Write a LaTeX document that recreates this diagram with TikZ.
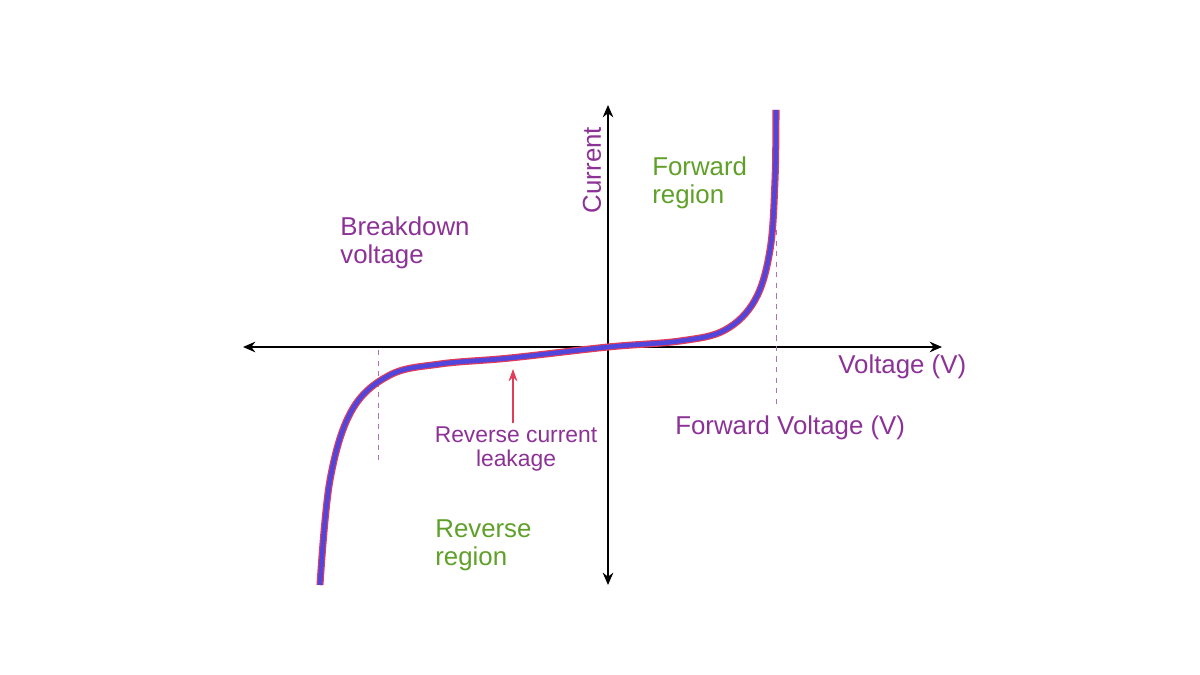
\documentclass[tikz,border=0pt]{standalone}
\usepackage{fontspec}
\setmainfont{Liberation Sans}
\usetikzlibrary{positioning,arrows.meta}
\definecolor{lblpurple}{RGB}{140,50,150}
\definecolor{lblgreen}{RGB}{95,160,40}
\definecolor{curveblue}{RGB}{80,70,220}
\definecolor{curvered}{RGB}{225,60,90}
\tikzset{
  lbl/.style={text=lblpurple,font=\fontsize{14.7}{16}\selectfont,align=left,inner sep=0pt},
  region/.style={text=lblgreen,font=\fontsize{14.7}{16}\selectfont,align=left,inner sep=0pt},
  guide/.style={lblpurple!70,dashed,thin},
}
\begin{document}
\begin{tikzpicture}[x=0.02cm,y=-0.02cm]
\useasboundingbox (0,0) rectangle (1200,675);

% axes
\coordinate (ax-left) at (243,347);
\coordinate (ax-right) at (942,347);
\coordinate (ax-top) at (608,105);
\coordinate (ax-bottom) at (608,585);
\draw [{Stealth[length=7pt,width=6pt]}-{Stealth[length=7pt,width=6pt]},line width=1pt] (ax-left) -- (ax-right);
\draw [{Stealth[length=7pt,width=6pt]}-{Stealth[length=7pt,width=6pt]},line width=1pt] (ax-bottom) -- (ax-top);

% guide lines
\coordinate (bd-top) at (378,350);
\coordinate (bd-bottom) at (378,460);
\coordinate (fw-top) at (776,230);
\coordinate (fw-bottom) at (776,405);
\draw [guide] (bd-top) -- (bd-bottom);
\draw [guide] (fw-top) -- (fw-bottom);

% diode curve
\def\diodecurve{plot [smooth,tension=0.6] coordinates {(320,585) (330,480) (352,410) (390,375) (440,364) (510,358) (608,347) (680,341) (725,330) (755,300) (770,250) (775,180) (776,110)}}
\draw [curvered,line width=4pt] \diodecurve;
\draw [curveblue,line width=2.6pt] \diodecurve;

% labels
\node [lbl,rotate=90] (lbl-current) at (592,170) {Current};
\node [lbl,anchor=west] (lbl-voltage) at (838,367) {Voltage (V)};
\node [lbl,anchor=west] (lbl-fwdv) at (675,428) {Forward Voltage (V)};
\node [lbl,anchor=west] (lbl-breakdown) at (340,243) {Breakdown\\voltage};
\node [region,anchor=west] (lbl-forward) at (652,183) {Forward\\region};
\node [region,anchor=west] (lbl-reverse) at (435,545) {Reverse\\region};
\node [lbl,align=center,font=\fontsize{13}{14}\selectfont] (lbl-leak) at (516,449) {Reverse current\\leakage};

% leakage arrow
\coordinate (leak-tip) at (513,369);
\draw [-{Stealth[length=7pt,width=5pt]},curvered,line width=1pt] (lbl-leak.north -| leak-tip) ++(0,-3) -- (leak-tip);
\end{tikzpicture}
\end{document}
